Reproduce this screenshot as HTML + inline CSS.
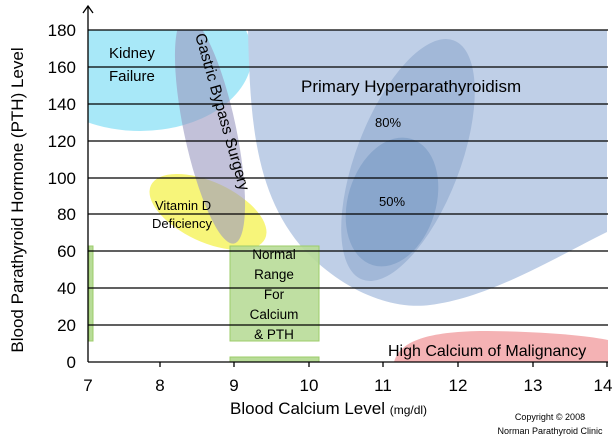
<!DOCTYPE html>
<html><head><style>body{margin:0;background:#fff}svg{display:block;font-family:"Liberation Sans",sans-serif}</style></head>
<body>
<svg width="615" height="439" viewBox="0 0 615 439" xmlns="http://www.w3.org/2000/svg">
<defs><clipPath id="c"><rect x="88" y="30" width="520" height="332"/></clipPath></defs>
<g clip-path="url(#c)">
<ellipse cx="140" cy="55" rx="112" ry="76" fill="#a8e8f8"/>
<path d="M248,30 C250,120 255,190 300,245 C340,290 390,310 430,305 C490,298 560,255 607,232 L607,30 Z" fill="#bfcfe7"/>
<ellipse cx="408" cy="160" rx="52" ry="128" transform="rotate(21 408 160)" fill="#a2b8d8"/>
<ellipse cx="392" cy="202" rx="44" ry="66" transform="rotate(17 392 202)" fill="#89a6cc"/>
<ellipse cx="208" cy="212" rx="63" ry="30" transform="rotate(25 208 212)" fill="#f7f57a"/>
<ellipse cx="210" cy="130" rx="26" ry="116" transform="rotate(-12 210 130)" fill="#9a98c0" fill-opacity="0.6"/>
<path d="M394,362 C400,340 430,332 480,331 C540,331 590,336 608,340 L608,362 Z" fill="#f4b2b4"/>
<rect x="230" y="246" width="89" height="95" fill="#b8dc98" fill-opacity="0.9" stroke="#9ccc6a"/>
<rect x="230" y="357" width="89" height="6" fill="#b8dc98" stroke="#9ccc6a"/>
<rect x="89" y="246" width="4" height="95" fill="#b8dc98" stroke="#9ccc6a"/>
</g>
<g stroke="#000" stroke-width="1.3">
<line x1="88" y1="30" x2="608" y2="30"/><line x1="88" y1="67" x2="608" y2="67"/>
<line x1="88" y1="104" x2="608" y2="104"/><line x1="88" y1="141" x2="608" y2="141"/>
<line x1="88" y1="178" x2="608" y2="178"/><line x1="88" y1="214" x2="608" y2="214"/>
<line x1="88" y1="251" x2="608" y2="251"/><line x1="88" y1="288" x2="608" y2="288"/>
<line x1="88" y1="325" x2="608" y2="325"/><line x1="88" y1="362" x2="608" y2="362"/>
<line x1="88" y1="6" x2="88" y2="362"/>
<path d="M83,13 L88,6 L93,13" fill="none"/>
<line x1="160" y1="362" x2="160" y2="367"/><line x1="234" y1="362" x2="234" y2="367"/>
<line x1="309" y1="362" x2="309" y2="367"/><line x1="383" y1="362" x2="383" y2="367"/>
<line x1="458" y1="362" x2="458" y2="367"/><line x1="533" y1="362" x2="533" y2="367"/>
<line x1="607" y1="362" x2="607" y2="367"/>
</g>
<g font-size="17" text-anchor="end">
<text x="76" y="36">180</text><text x="76" y="73">160</text><text x="76" y="110">140</text>
<text x="76" y="147">120</text><text x="76" y="184">100</text><text x="76" y="220">80</text>
<text x="76" y="257">60</text><text x="76" y="294">40</text><text x="76" y="331">20</text><text x="76" y="368">0</text>
</g>
<g font-size="17" text-anchor="middle">
<text x="88" y="391">7</text><text x="160" y="391">8</text><text x="234" y="391">9</text><text x="309" y="391">10</text>
<text x="383" y="391">11</text><text x="458" y="391">12</text><text x="533" y="391">13</text><text x="603" y="391">14</text>
</g>
<text x="230" y="414" font-size="17">Blood Calcium Level <tspan font-size="12">(mg/dl)</tspan></text>
<text transform="translate(23 200) rotate(-90)" text-anchor="middle" font-size="17">Blood Parathyroid Hormone  (PTH) Level</text>
<text x="550" y="420" font-size="9" text-anchor="middle">Copyright © 2008</text>
<text x="550" y="434" font-size="9" text-anchor="middle">Norman Parathyroid Clinic</text>
<text x="109" y="58" font-size="15">Kidney</text><text x="109" y="81" font-size="15">Failure</text>
<text x="301" y="92" font-size="17">Primary Hyperparathyroidism</text>
<text x="388" y="127" font-size="13" text-anchor="middle">80%</text>
<text x="392" y="206" font-size="13" text-anchor="middle">50%</text>
<text x="155" y="210" font-size="13">Vitamin D</text><text x="152" y="228" font-size="13">Deficiency</text>
<text transform="translate(195 35) rotate(74)" font-size="15.5">Gastric Bypass Surgery</text>
<g font-size="13.5" text-anchor="middle"><text x="274" y="259">Normal</text><text x="274" y="279">Range</text><text x="274" y="299">For</text><text x="274" y="319">Calcium</text><text x="274" y="339">&amp; PTH</text></g>
<text x="388" y="356" font-size="16">High Calcium of Malignancy</text>
</svg>
</body></html>
